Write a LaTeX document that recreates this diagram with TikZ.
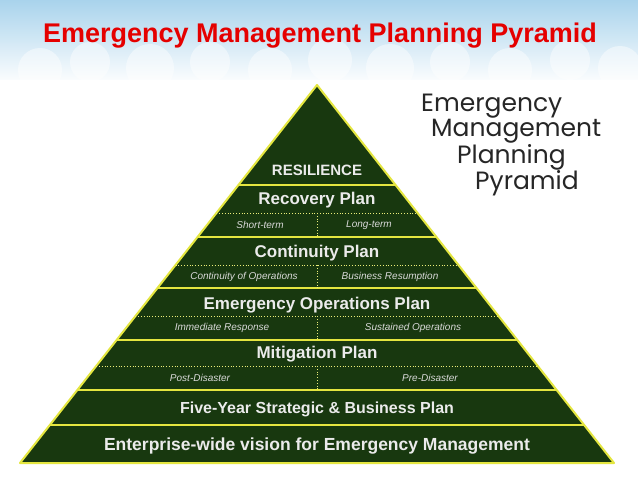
\documentclass[tikz,border=0pt]{standalone}
\usepackage{fontspec}
\setmainfont{Liberation Sans}
\newfontfamily\gfont{Poppins}
\begin{document}
\begin{tikzpicture}[x=1pt,y=-1pt,
  band/.style={draw=pyel,line width=1.6pt},
  sub/.style={draw=pyel!70!white,dotted,line width=0.8pt},
  main/.style={text=white!92!black,font=\bfseries\fontsize{17}{17}\selectfont},
  small/.style={text=white!85!black,font=\itshape\fontsize{10}{10}\selectfont}]
\definecolor{pyel}{HTML}{E4E640}
\definecolor{pgreen}{HTML}{18380F}
\definecolor{sky}{HTML}{A9D3EC}
\useasboundingbox (0,0) rectangle (638,479);
\fill[white] (0,0) rectangle (638,479);
\shade[top color=sky,bottom color=white] (0,0) rectangle (638,85);
\foreach \cx/\cy/\r in {40/70/22,90/62/20,150/68/24,210/62/20,270/70/22,330/60/22,390/68/24,450/62/20,510/70/22,570/60/20,620/68/22}
  \fill[white,opacity=0.45] (\cx,\cy) circle (\r);
\fill[white] (0,80) rectangle (638,479);
\node[text=red!90!black,font=\bfseries\fontsize{27}{27}\selectfont] (title) at (320,36) {Emergency Management Planning Pyramid};
% pyramid
\fill[pgreen,draw=pyel,line width=2pt,line join=round] (317,85) -- (614,463) -- (20,463) -- cycle;
\draw[band] (238.4,185) -- (395.6,185);
\draw[band] (197.5,237) -- (436.5,237);
\draw[band] (157.4,288) -- (476.6,288);
\draw[band] (116.6,340) -- (517.4,340);
\draw[band] (77.3,390) -- (556.7,390);
\draw[band] (49.8,425) -- (584.2,425);
\draw[sub] (216.4,213) -- (417.6,213);
\draw[sub] (175.5,265) -- (458.5,265);
\draw[sub] (135.4,316) -- (498.6,316);
\draw[sub] (96.1,366) -- (537.9,366);
\draw[sub] (317,213) -- (317,237);
\draw[sub] (317,265) -- (317,288);
\draw[sub] (317,316) -- (317,340);
\draw[sub] (317,366) -- (317,390);
\node[main,font=\bfseries\fontsize{15}{15}\selectfont] (res) at (317,170) {RESILIENCE};
\node[main] (rec) at (317,200) {Recovery Plan};
\node[small] (st) at (260,225) {Short-term};
\node[small] (lt) at (369,225) {Long-term};
\node[main] (con) at (317,253) {Continuity Plan};
\node[small] (coo) at (244,277) {Continuity of Operations};
\node[small] (br) at (390,277) {Business Resumption};
\node[main] (eop) at (317,305) {Emergency Operations Plan};
\node[small] (ir) at (222,328) {Immediate Response};
\node[small] (so) at (413,328) {Sustained Operations};
\node[main] (mit) at (317,354) {Mitigation Plan};
\node[small] (pd) at (200,378) {Post-Disaster};
\node[small] (pre) at (430,378) {Pre-Disaster};
\node[main,font=\bfseries\fontsize{16}{16}\selectfont] (fy) at (317,409) {Five-Year Strategic \& Business Plan};
\node[main,font=\bfseries\fontsize{17.5}{17.5}\selectfont] (ent) at (317,446) {Enterprise-wide vision for Emergency Management};
% side text
\begin{scope}[every node/.style={anchor=west,inner sep=0,text=black!85,font=\gfont\fontsize{25}{25}\selectfont}]
\node (s1) at (421,106) {Emergency};
\node (s2) at (431,131) {Management};
\node (s3) at (457,157) {Planning};
\node (s4) at (475,183) {Pyramid};
\end{scope}
\end{tikzpicture}
\end{document}
